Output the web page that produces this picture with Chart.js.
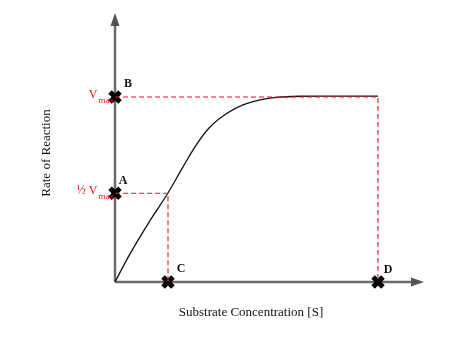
<!DOCTYPE html>
<html>
<head>
<meta charset="utf-8">
<script src="https://cdn.jsdelivr.net/npm/chart.js@4.4.1/dist/chart.umd.min.js"></script>
<style>
  html, body { margin: 0; padding: 0; background: #fff; }
  #wrap { width: 449px; height: 340px; position: relative; }
</style>
</head>
<body>
<div id="wrap"><canvas id="c"></canvas></div>
<script>
// curve (substrate concentration vs rate), arbitrary units
const curveX = [0, 3, 7, 10.6, 13.6, 16.4, 19, 22.4, 25.6, 29, 32.4, 37, 45, 52.6];
const curveY = [0, 15.2, 33.2, 48.1, 62.2, 74.6, 83.8, 91.2, 95.7, 98.4, 99.8, 100.4, 100.5, 100.5];

const VMAX = 100;
const HALF_VMAX = 48;
const S_C = 10.6;   // [S] at half Vmax
const S_D = 52.6;   // [S] at Vmax
const X_MAX = 61.8;
const Y_MAX = 145.4;

const markerNames = ['B', 'A', 'C', 'D'];
const markerX = [0, 0, S_C, S_D];
const markerY = [VMAX, HALF_VMAX, 0, 0];

const X_TITLE = 'Substrate Concentration [S]';
const Y_TITLE = 'Rate of Reaction';

const SERIF = '"Liberation Serif", "Times New Roman", serif';
const RED = '#f0141b';
const AXIS = '#6a6a6a';

const pts = (xs, ys) => xs.map((x, i) => ({ x, y: ys[i] }));

const dashed = {
  type: 'line', borderColor: RED, borderWidth: 1.1, borderDash: [5, 3],
  pointRadius: 0, fill: false, tension: 0,
};

// axes with arrows, axis titles, letters and Vmax labels
const decor = {
  id: 'decor',
  beforeDatasetsDraw(chart) {
    const { ctx, scales: { x, y } } = chart;
    const x0 = x.getPixelForValue(0), y0 = y.getPixelForValue(0);
    const xe = x.getPixelForValue(X_MAX), ye = y.getPixelForValue(Y_MAX);
    ctx.save();
    ctx.strokeStyle = AXIS; ctx.lineWidth = 2.5;
    ctx.beginPath();
    ctx.moveTo(x0, y0); ctx.lineTo(x0, ye + 12);
    ctx.moveTo(x0, y0); ctx.lineTo(xe - 12, y0);
    ctx.stroke();
    ctx.fillStyle = '#555';
    ctx.beginPath();
    ctx.moveTo(x0, ye); ctx.lineTo(x0 - 4.5, ye + 13); ctx.lineTo(x0 + 4.5, ye + 13); ctx.closePath();
    ctx.fill();
    ctx.beginPath();
    ctx.moveTo(xe, y0); ctx.lineTo(xe - 13, y0 - 4.5); ctx.lineTo(xe - 13, y0 + 4.5); ctx.closePath();
    ctx.fill();
    ctx.restore();
  },
  afterDraw(chart) {
    const { ctx, scales: { x, y } } = chart;
    const x0 = x.getPixelForValue(0);
    ctx.save();
    ctx.fillStyle = '#111';
    ctx.font = '13px ' + SERIF;
    ctx.textAlign = 'center'; ctx.textBaseline = 'middle';
    ctx.fillText(X_TITLE, 251, 313);
    ctx.translate(47, 153); ctx.rotate(-Math.PI / 2);
    ctx.fillText(Y_TITLE, 0, 0);
    ctx.restore();

    // letters
    ctx.save();
    ctx.fillStyle = '#111';
    ctx.font = 'bold 12px ' + SERIF;
    ctx.textAlign = 'center'; ctx.textBaseline = 'middle';
    const off = [[13, -13], [8, -12], [13, -13], [10, -12]];
    markerNames.forEach((n, i) => {
      ctx.fillText(n, x.getPixelForValue(markerX[i]) + off[i][0], y.getPixelForValue(markerY[i]) + off[i][1]);
    });
    ctx.restore();

    // red Vmax labels
    ctx.save();
    ctx.fillStyle = RED;
    ctx.textBaseline = 'alphabetic'; ctx.textAlign = 'right';
    [[VMAX, 'V'], [HALF_VMAX, '½ V']].forEach(([v, t]) => {
      const py = y.getPixelForValue(v);
      ctx.font = '9px ' + SERIF;
      const right = x0 - 1;
      ctx.fillText('max', right, py + 6);
      const w = ctx.measureText('max').width;
      ctx.font = '12px ' + SERIF;
      ctx.fillText(t, right - w - 1, py + 1);
    });
    ctx.restore();
  }
};

new Chart(document.getElementById('c'), {
  type: 'scatter',
  data: {
    datasets: [
      { ...dashed, data: pts([0, S_C, S_C], [HALF_VMAX, HALF_VMAX, 0]) },
      { ...dashed, data: pts([0, S_D, S_D], [VMAX, VMAX, 0]) },
      {
        type: 'line', data: pts(curveX, curveY), borderColor: '#111', borderWidth: 1.3,
        pointRadius: 0, fill: false, tension: 0.4,
      },
      {
        data: pts(markerX, markerY), pointStyle: 'crossRot', pointRadius: 7,
        borderColor: '#000', borderWidth: 5, backgroundColor: '#000', clip: false,
      },
    ]
  },
  options: {
    responsive: true, maintainAspectRatio: false, animation: false,
    layout: { padding: { left: 115, right: 25, top: 13, bottom: 58 } },
    plugins: { legend: { display: false }, tooltip: { enabled: false } },
    scales: {
      x: { type: 'linear', min: 0, max: X_MAX, display: false },
      y: { type: 'linear', min: 0, max: Y_MAX, display: false },
    }
  },
  plugins: [decor]
});
</script>
</body>
</html>
